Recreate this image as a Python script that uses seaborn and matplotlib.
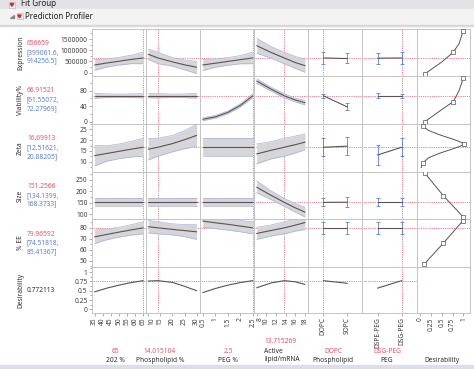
import numpy as np
import matplotlib
matplotlib.use("Agg")
import matplotlib.pyplot as plt
import seaborn as sns
from matplotlib.patches import Rectangle, Polygon
from matplotlib.ticker import AutoMinorLocator

# === factors ===
x_202 = [35, 42.5, 50, 57.5, 65]
x_pl = [10, 14, 20, 25, 30]
x_peg = [0.5, 1.0, 1.5, 2.0, 2.5]
x_al = [8, 11, 13.7, 16, 18]
pl_cats = ["DOPC", "SOPC"]
peg_cats = ["DSPE-PEG", "DSG-PEG"]
current_x = [65, 14.015104, 2.5, 13.715269, 0, 1]
current_txt = ["65", "14.015104", "2.5", "13.715269", "DOPC", "DSG-PEG"]
factor_names = ["202 %", "Phospholipid %", "PEG %", "Active\nlipid/mRNA", "Phospholipid", "PEG", "Desirability"]

# === responses ===
resp_names = ["Expression", "Viability%", "Zeta", "Size", "% EE", "Desirability"]
pred = [656659, 66.91521, 16.69913, 151.2566, 79.96592, 0.772113]
pred_txt = ["656659", "66.91521", "16.69913", "151.2566", "79.96592", "0.772113"]
ci_txt = [["[399061.6,", "914256.5]"], ["[61.55072,", "72.27969]"], ["[12.51621,", "20.88205]"],
          ["[134.1399,", "168.3733]"], ["[74.51818,", "85.41367]"], None]

expr_mean = [[344000, 430000, 510000, 590000, 656659],
             [820000, 656659, 480000, 350000, 240000],
             [344000, 420000, 500000, 580000, 656659],
             [1205000, 900000, 656659, 450000, 312000]]
expr_lo = [[105000, 250000, 340000, 400000, 399062],
           [590000, 399062, 290000, 130000, -40000],
           [95000, 240000, 330000, 395000, 399062],
           [866000, 640000, 399062, 190000, 18000]]
expr_hi = [[585000, 610000, 680000, 780000, 914257],
           [1050000, 914257, 670000, 570000, 500000],
           [595000, 600000, 670000, 765000, 914257],
           [1535000, 1160000, 914257, 720000, 612000]]
expr_cat_mean = [[656659, 630000], [645000, 656659]]
expr_cat_lo = [[399062, 410000], [390000, 399062]]
expr_cat_hi = [[914257, 900000], [900000, 914257]]

via_mean = [[66.92, 66.92, 66.92, 66.92, 66.92],
            [66.92, 66.92, 66.92, 66.92, 66.92],
            [6.2, 12.5, 24, 42, 66.92],
            [105, 84, 66.92, 56, 49]]
via_lo = [[60.5, 62.2, 62.5, 62.2, 61.55],
          [61.55, 61.55, 62.5, 62.2, 60.5],
          [2.5, 9, 20.5, 38, 61.55],
          [99, 79, 61.55, 51, 43]]
via_hi = [[73.3, 71.6, 71.3, 71.6, 72.28],
          [72.28, 72.28, 71.3, 71.6, 73.3],
          [10, 16, 27.5, 46, 72.28],
          [111, 89, 72.28, 61, 55]]
via_cat_mean = [[66.92, 38], [66.92, 66.92]]
via_cat_lo = [[61.55, 29], [60, 61.55]]
via_cat_hi = [[72.28, 47], [74, 72.28]]

zeta_mean = [[12.8, 13.8, 14.8, 15.8, 16.7],
             [15.8, 16.7, 18.4, 20.2, 22.2],
             [16.7, 16.7, 16.7, 16.7, 16.7],
             [13.6, 15.3, 16.7, 17.9, 19.1]]
zeta_lo = [[8.1, 10.2, 11.4, 12.2, 12.52],
           [10.8, 12.52, 14.6, 16.0, 17.0],
           [12.52, 12.52, 12.52, 12.52, 12.52],
           [9.0, 11.3, 12.52, 14.0, 15.6]]
zeta_hi = [[17.5, 17.4, 18.2, 19.4, 20.88],
           [20.8, 20.88, 22.2, 24.4, 27.4],
           [20.88, 20.88, 20.88, 20.88, 20.88],
           [18.2, 19.3, 20.88, 21.9, 22.9]]
zeta_cat_mean = [[16.7, 17.2], [13.1, 16.7]]
zeta_cat_lo = [[12.52, 13.1], [8.5, 12.52]]
zeta_cat_hi = [[20.88, 21.3], [17.7, 20.88]]

size_mean = [[151.26] * 5, [151.26] * 5, [151.26] * 5,
             [218, 182, 151.26, 127, 108]]
size_lo = [[134.14] * 5, [134.14] * 5, [134.14] * 5,
           [194, 163, 134.14, 108, 87]]
size_hi = [[168.37] * 5, [168.37] * 5, [168.37] * 5,
           [246, 201, 168.37, 146, 130]]
size_cat_mean = [[151.26, 152], [151.26, 151.26]]
size_cat_lo = [[134.14, 131], [134.14, 134.14]]
size_cat_hi = [[168.37, 173], [168.37, 168.37]]

ee_mean = [[71.8, 74.0, 76.1, 78.1, 79.97],
           [81.0, 79.97, 78.6, 77.5, 76.4],
           [86.1, 84.6, 83.2, 81.6, 79.97],
           [74.9, 77.6, 79.97, 82.4, 84.8]]
ee_lo = [[65.8, 69.2, 71.6, 73.4, 74.52],
         [75.3, 74.52, 73.6, 72.0, 69.5],
         [80.5, 79.3, 78.0, 76.4, 74.52],
         [69.5, 72.6, 74.52, 77.0, 78.5]]
ee_hi = [[77.9, 78.8, 80.6, 82.8, 85.41],
         [86.7, 85.41, 83.6, 83.0, 83.3],
         [91.7, 89.9, 88.4, 86.8, 85.41],
         [80.4, 82.6, 85.41, 87.8, 91.1]]
ee_cat_mean = [[79.97, 79.97], [79.97, 79.97]]
ee_cat_lo = [[74.52, 74.6], [74.52, 74.52]]
ee_cat_hi = [[85.41, 85.5], [85.41, 85.41]]

des_mean = [[0.47, 0.57, 0.65, 0.72, 0.772],
            [0.762, 0.772, 0.725, 0.62, 0.50],
            [0.45, 0.56, 0.65, 0.72, 0.772],
            [0.58, 0.71, 0.772, 0.74, 0.67]]
des_cat_mean = [[0.772, 0.70], [0.57, 0.772]]

# desirability functions (x = desirability, y = response)
dfun_d = [[0.115, 0.30, 0.50, 0.766, 0.90, 0.995],
          [0.115, 0.45, 0.766, 0.90, 0.995],
          [0.062, 0.2, 0.45, 0.75, 0.93, 1.01, 0.93, 0.75, 0.45, 0.2, 0.062, 0.03],
          [0.115, 0.536, 0.995],
          [0.10, 0.536, 0.98]]
dfun_y = [[-55000, 200000, 470000, 910000, 1300000, 1880000],
          [0, 27, 52, 80, 113],
          [26.6, 24.5, 22.5, 20.5, 19.2, 18.2, 17.2, 15.9, 13.9, 11.8, 9.3, 7.2],
          [280, 181, 87],
          [47, 66, 86]]
dpt_d = [[0.115, 0.766, 0.995], [0.115, 0.766, 0.995], [0.062, 1.01, 0.062],
         [0.115, 0.536, 0.995], [0.10, 0.536, 0.98]]
dpt_y = [[-55000, 910000, 1880000], [0, 52, 113], [26.6, 18.2, 9.3],
         [280, 181, 87], [47, 66, 86]]

# axis setup
y_lims = [(-150000, 1950000), (-6, 118), (5.2, 27.5), (78, 285), (44.5, 88), (-0.1, 1.14)]
y_ticks = [[0, 500000, 1000000, 1500000], [0, 40, 80], [10, 15, 20, 25],
           [100, 150, 200, 250], [50, 60, 70, 80], [0, 0.25, 0.5, 0.75, 1]]
y_ticklabels = [["0", "500000", "1000000", "1500000"], ["0", "40", "80"], ["10", "15", "20", "25"],
                ["100", "150", "200", "250"], ["50", "60", "70", "80"], ["0", "0.25", "0.5", "0.75", "1"]]
x_lims = [(33.4, 66.7), (9.05, 31.4), (0.39, 2.55), (7.44, 18.62), (-0.64, 1.61), (-0.64, 1.61), (-0.076, 1.15)]
x_ticks = [[35, 40, 45, 50, 55, 60, 65], [10, 15, 20, 25, 30], [0.5, 1, 1.5, 2, 2.5],
           [8, 10, 12, 14, 16, 18], [0, 1], [0, 1], [0, 0.25, 0.5, 0.75, 1]]
x_ticklabels = [["35", "40", "45", "50", "55", "60", "65"], ["10", "15", "20", "25", "30"],
                ["0.5", "1", "1.5", "2", "2.5"], ["8", "10", "12", "14", "16", "18"],
                pl_cats, peg_cats, ["0", "0.25", "0.5", "0.75", "1"]]

W, H = 474, 369
col_edges = [92, 146, 200, 254, 308, 362, 416.5, 470]
row_edges = [29, 76, 124, 172, 219, 267, 313]

RED = "#e5536d"
BLUE = "#5b7fdc"
LINE = "#5c5252"
BAND = "#d5d5da"
BAND_EDGE = "#a9b3d6"
GRID = "#c4c4c4"

sns.set_theme(style="white")
plt.rcParams["font.family"] = ["Noto Sans", "DejaVu Sans"]


def fx(x):
    return x / W


def fy(y):
    return 1 - y / H


fig = plt.figure(figsize=(4.74, 3.69), dpi=100)
fig.patch.set_facecolor("white")

# header bars
fig.patches.append(Rectangle((0, fy(9)), 1, 9 / H, transform=fig.transFigure, color="#e3e3e7", zorder=0))
fig.patches.append(Rectangle((0, fy(25)), 1, 16 / H, transform=fig.transFigure, color="#f3f3f3", zorder=0))
fig.patches.append(Rectangle((0, fy(25.5)), 1, 0.8 / H, transform=fig.transFigure, color="#d8d8d8", zorder=0))
fig.patches.append(Rectangle((0, fy(369)), 1, 4 / H, transform=fig.transFigure, color="#dcdfe9", zorder=0))
for (bx, by) in [(9, 1.5), (16.5, 13)]:
    fig.patches.append(Rectangle((fx(bx), fy(by + 6)), 6 / W, 6 / H, transform=fig.transFigure,
                                 facecolor="#f4f4f4", edgecolor="#b0b0b0", lw=0.4))
    fig.patches.append(Polygon([[fx(bx + 1.2), fy(by + 2)], [fx(bx + 4.8), fy(by + 2)], [fx(bx + 3), fy(by + 4.8)]],
                               closed=True, transform=fig.transFigure, color="#d9263c"))
fig.patches.append(Polygon([[fx(10), fy(18)], [fx(13.5), fy(18)], [fx(13.5), fy(14.5)]],
                           closed=True, transform=fig.transFigure, color="#8a8a8a"))
fig.text(fx(21), fy(3.5), "Fit Group", fontsize=5.8, fontweight="bold", va="center", ha="left", color="#202020")
fig.text(fx(25), fy(16.5), "Prediction Profiler", fontsize=5.8, fontweight="bold", va="center", ha="left",
         color="#202020")

cont_x = [x_202, x_pl, x_peg, x_al]
means = [expr_mean, via_mean, zeta_mean, size_mean, ee_mean]
los = [expr_lo, via_lo, zeta_lo, size_lo, ee_lo]
his = [expr_hi, via_hi, zeta_hi, size_hi, ee_hi]
cat_means = [expr_cat_mean, via_cat_mean, zeta_cat_mean, size_cat_mean, ee_cat_mean]
cat_los = [expr_cat_lo, via_cat_lo, zeta_cat_lo, size_cat_lo, ee_cat_lo]
cat_his = [expr_cat_hi, via_cat_hi, zeta_cat_hi, size_cat_hi, ee_cat_hi]

for r in range(6):
    for c in range(7):
        x0, x1 = col_edges[c], col_edges[c + 1]
        y0, y1 = row_edges[r], row_edges[r + 1]
        ax = fig.add_axes([fx(x0), fy(y1), (x1 - x0) / W, (y1 - y0) / H])
        ax.set_facecolor("white")
        for s in ax.spines.values():
            s.set_color(GRID)
            s.set_linewidth(0.7)
        ax.set_xlim(*x_lims[c])
        ax.set_ylim(*y_lims[r])

        # crosshairs
        if c < 6:
            ax.axvline(current_x[c], color=RED, ls=(0, (1, 1.2)), lw=0.6, zorder=1)
        if not (r == 5 and c == 6):
            ax.axhline(pred[r], color=RED, ls=(0, (1, 1.2)), lw=0.6, zorder=1)

        if c < 4:
            xs = cont_x[c]
            if r < 5:
                lo, hi = los[r][c], his[r][c]
                ax.fill_between(xs, lo, hi, color=BAND, lw=0, zorder=2)
                sns.lineplot(x=xs, y=lo, ax=ax, color=BAND_EDGE, lw=0.5, zorder=3)
                sns.lineplot(x=xs, y=hi, ax=ax, color=BAND_EDGE, lw=0.5, zorder=3)
                sns.lineplot(x=xs, y=means[r][c], ax=ax, color=LINE, lw=0.8, zorder=4)
            else:
                sns.lineplot(x=xs, y=des_mean[c], ax=ax, color=LINE, lw=0.8, zorder=4)
        elif c < 6:
            k = c - 4
            if r < 5:
                m = np.array(cat_means[r][k])
                lo = np.array(cat_los[r][k])
                hi = np.array(cat_his[r][k])
                ax.errorbar([0, 1], m, yerr=[m - lo, hi - m], fmt="none", ecolor=BLUE,
                            elinewidth=0.6, capsize=1.4, capthick=0.6, zorder=3)
                sns.lineplot(x=[0, 1], y=m, ax=ax, color=LINE, lw=0.8, zorder=4)
            else:
                sns.lineplot(x=[0, 1], y=des_cat_mean[k], ax=ax, color=LINE, lw=0.8, zorder=4)
        elif r < 5:
            sns.lineplot(x=dfun_d[r], y=dfun_y[r], ax=ax, sort=False, estimator=None,
                         color=LINE, lw=0.7, zorder=4)
            ax.plot(dpt_d[r], dpt_y[r], "s", mfc="white", mec=LINE, ms=2.2, mew=0.5, zorder=5)

        ax.set_xlabel("")
        ax.set_ylabel("")
        if c == 0:
            ax.set_yticks(y_ticks[r])
            ax.set_yticklabels(y_ticklabels[r])
            ax.yaxis.set_minor_locator(AutoMinorLocator(2))
            ax.tick_params(axis="y", which="both", left=True, direction="out", length=2, width=0.5,
                           color="#909090", labelsize=4.8, labelcolor="#404040", pad=1.2)
            ax.tick_params(axis="y", which="minor", length=1.2)
        else:
            ax.set_yticks([])
        if r == 5:
            ax.set_xticks(x_ticks[c])
            labels = ax.set_xticklabels(x_ticklabels[c], rotation=90)
            # keep the first label clear of the previous panel's last one
            if c in (1, 3):
                labels[0].set_ha("left")
            ax.tick_params(axis="x", bottom=True, direction="out", length=2, width=0.5,
                           color="#909090", labelsize=4.8, labelcolor="#404040", pad=1.2)
        else:
            ax.set_xticks([])

# left response labels
for r in range(6):
    yc = (row_edges[r] + row_edges[r + 1]) / 2
    fig.text(fx(20.5), fy(yc), resp_names[r], rotation=90, fontsize=4.8, ha="center", va="center",
             color="#303030")
    if ci_txt[r] is None:
        fig.text(fx(27), fy(yc + 1), pred_txt[r], fontsize=4.8, ha="left", va="center", color="#303030")
    else:
        fig.text(fx(27), fy(yc - 9), pred_txt[r], fontsize=4.8, ha="left", va="center", color=RED)
        fig.text(fx(26.5), fy(yc), ci_txt[r][0], fontsize=4.8, ha="left", va="center", color=BLUE)
        fig.text(fx(26.5), fy(yc + 8.5), ci_txt[r][1], fontsize=4.8, ha="left", va="center", color=BLUE)

# bottom factor labels
centers = [115, 160, 228, 264, 333, 387, 442]
for c in range(7):
    if c == 3:
        fig.text(fx(centers[c]), fy(341.7), current_txt[c], fontsize=4.8, ha="left", va="center", color=RED)
        fig.text(fx(centers[c]), fy(355.5), factor_names[c], fontsize=4.8, ha="left", va="center",
                 color="#303030", linespacing=1.3)
        continue
    if c < 6:
        fig.text(fx(centers[c]), fy(351.7), current_txt[c], fontsize=4.8, ha="center", va="center", color=RED)
    fig.text(fx(centers[c]), fy(360.7), factor_names[c], fontsize=4.8, ha="center", va="center", color="#303030")

fig.savefig("out.png", dpi=100)
